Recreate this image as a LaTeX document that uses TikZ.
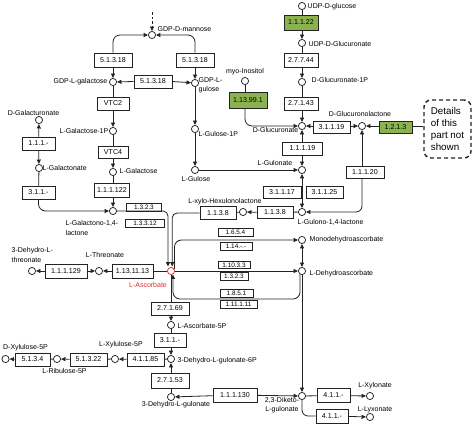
\documentclass[tikz,border=0pt]{standalone}
\usepackage{fontspec}
\setmainfont{Liberation Sans}
\usetikzlibrary{arrows.meta,calc}
\definecolor{kgreen}{RGB}{138,178,78}
\definecolor{kred}{RGB}{225,45,45}
\definecolor{ln}{RGB}{35,35,35}
\begin{document}
\begin{tikzpicture}[x=1pt,y=-1pt,
  met/.style={circle,draw=ln,fill=white,line width=0.75pt,inner sep=0pt,minimum size=7.2pt},
  enz/.style={draw=ln,fill=white,line width=0.65pt,inner sep=0pt,minimum height=13pt,font=\fontsize{7.1}{7.5}\selectfont},
  genz/.style={enz,fill=kgreen},
  sm/.style={draw=ln,fill=white,line width=0.55pt,inner sep=0pt,minimum height=7.5pt,font=\fontsize{6.4}{6.5}\selectfont},
  lbl/.style={inner sep=0.5pt,font=\fontsize{7}{9.5}\selectfont},
  edge/.style={draw=ln,line width=0.8pt},
  arr/.style={edge,-{Triangle[length=4.5pt,width=4pt]}},
  barr/.style={edge,{Triangle[length=4.5pt,width=4pt]}-{Triangle[length=4.5pt,width=4pt]}},
  detbox/.style={draw=ln,dashed,line width=1.4pt,dash pattern=on 4pt off 3pt,rounded corners=7pt,inner sep=0pt,align=left,font=\fontsize{9.8}{12}\selectfont}
]
\useasboundingbox (0,0) rectangle (474,424);

% ---------- metabolites ----------
\node[met] (mann) at (152,35) {};
\node[met] (gdpgal) at (113,82) {};
\node[met] (gdpgul) at (195,83) {};
\node[met] (gal1p) at (113,131) {};
\node[met] (gul1p) at (195,129) {};
\node[met] (galac) at (113,172) {};
\node[met] (gulose) at (195,170) {};
\node[met] (galactono) at (113,211) {};
\node[met] (dgalur) at (39,120) {};
\node[met] (lgalon) at (39,168) {};
\node[met] (udpglc) at (302,6) {};
\node[met] (udpglcA) at (302,43) {};
\node[met] (glcA1p) at (302,82) {};
\node[met] (myo) at (245,81) {};
\node[met] (glcA) at (302,126) {};
\node[met] (glcAlac) at (362,126) {};
\node[met] (gulonate) at (302,170) {};
\node[met] (gulonolac) at (302,212) {};
\node[met] (xylo) at (243,212) {};
\node[met,draw=kred] (asc) at (171,271) {};
\node[met] (threo) at (99,271) {};
\node[met] (dhthreo) at (32,271) {};
\node[met] (mono) at (302,240) {};
\node[met] (dha) at (302,271) {};
\node[met] (asc5p) at (171,325) {};
\node[met] (dhg6p) at (171,359) {};
\node[met] (dhg) at (171,397) {};
\node[met] (diketo) at (302,396) {};
\node[met] (xylonate) at (370,396) {};
\node[met] (lyxonate) at (370,417) {};
\node[met] (lxyl5p) at (115,359) {};
\node[met] (lrib5p) at (57,359) {};
\node[met] (dxyl5p) at (5.5,359) {};

% ---------- enzymes ----------
\node[enz,minimum width=38pt,minimum height=14pt] (eA) at (113,60) {5.1.3.18};
\node[enz,minimum width=38pt,minimum height=14pt] (eB) at (195,60) {5.1.3.18};
\node[enz,minimum width=38pt] (eC) at (153,81.5) {5.1.3.18};
\node[enz,minimum width=32pt] (vtc2) at (113,103.5) {VTC2};
\node[enz,minimum width=30pt,minimum height=12pt] (vtc4) at (113,152.5) {VTC4};
\node[enz,minimum width=35pt,minimum height=14pt] (e111122) at (112,190) {1.1.1.122};
\node[genz,minimum width=34pt,minimum height=15pt] (e11122) at (301,22.5) {1.1.1.22};
\node[enz,minimum width=34pt,minimum height=14pt] (e27744) at (301,60) {2.7.7.44};
\node[enz,minimum width=34pt] (e27143) at (301,103.5) {2.7.1.43};
\node[genz,minimum width=38pt,minimum height=16pt] (e113991) at (248,100) {1.13.99.1};
\node[enz,minimum width=37pt,minimum height=12pt] (e31119) at (331.5,127) {3.1.1.19};
\node[genz,minimum width=33pt,minimum height=12pt] (e1213) at (395.5,127) {1.2.1.3};
\node[enz,minimum width=40pt] (e11119) at (302.5,148.5) {1.1.1.19};
\node[enz,minimum width=38pt,minimum height=11.5pt] (e11120) at (365,172.5) {1.1.1.20};
\node[enz,minimum width=38pt,minimum height=12pt] (e31117) at (282,192.5) {3.1.1.17};
\node[enz,minimum width=37pt,minimum height=12pt] (e31125) at (324.5,192.5) {3.1.1.25};
\node[enz,minimum width=36pt,minimum height=12pt] (e1138r) at (275,212.5) {1.1.3.8};
\node[enz,minimum width=36pt,minimum height=13pt] (e1138l) at (218,213) {1.1.3.8};
\node[enz,minimum width=33pt] (e111a) at (38.5,143.5) {1.1.1.-};
\node[enz,minimum width=33pt] (e311a) at (38.5,192.5) {3.1.1.-};
\node[sm,minimum width=35pt] (s1323a) at (144,207.5) {1.3.2.3};
\node[sm,minimum width=39pt,minimum height=8pt] (s13312) at (145,223) {1.3.3.12};
\node[sm,minimum width=35pt] (s1654) at (235.5,232.5) {1.6.5.4};
\node[sm,minimum width=32pt] (s114) at (236,246.5) {1.14.-.-};
\node[sm,minimum width=32pt] (s11033) at (234,265) {1.10.3.3};
\node[sm,minimum width=28pt] (s1323b) at (234,276.5) {1.3.2.3};
\node[sm,minimum width=33pt] (s1851) at (236.5,293.5) {1.8.5.1};
\node[sm,minimum width=37pt,minimum height=8pt] (s11111) at (238.5,304) {1.11.1.11};
\node[enz,minimum width=42pt,minimum height=14pt] (e111129) at (66,271) {1.1.1.129};
\node[enz,minimum width=41pt,minimum height=14pt] (e131113) at (132.5,271) {1.13.11.13};
\node[enz,minimum width=38pt] (e27169) at (170,308.5) {2.7.1.69};
\node[enz,minimum width=32pt,minimum height=14pt] (e311b) at (170,340) {3.1.1.-};
\node[enz,minimum width=38pt,minimum height=15pt] (e27153) at (170,380.5) {2.7.1.53};
\node[enz,minimum width=37pt] (e41185) at (145.5,359.5) {4.1.1.85};
\node[enz,minimum width=37pt] (e51322) at (88.5,359.5) {5.1.3.22};
\node[enz,minimum width=35pt] (e5134) at (32.5,359.5) {5.1.3.4};
\node[enz,minimum width=44pt,minimum height=14pt] (e111130) at (235,395) {1.1.1.130};
\node[enz,minimum width=33pt,minimum height=14pt] (e411a) at (333.5,395.5) {4.1.1.-};
\node[enz,minimum width=32pt,minimum height=14pt] (e411b) at (332,416) {4.1.1.-};
\node[detbox,minimum width=47pt,minimum height=58pt] (det) at (447.5,129) {Details\\of this\\part not\\shown};

% ---------- labels ----------
\node[lbl,anchor=west] (tmann) at (157,29) {GDP-D-mannose};
\node[lbl,anchor=east] (tgdpgal) at (108,82) {GDP-L-galactose};
\node[lbl,anchor=west,align=left] (tgdpgul) at (198,85.5) {GDP-L-\\gulose};
\node[lbl,anchor=east] (tgal1p) at (109,131) {L-Galactose-1P};
\node[lbl,anchor=west] (tgul1p) at (198,134) {L-Gulose-1P};
\node[lbl,anchor=west] (tgalac) at (119,171) {L-Galactose};
\node[lbl] (tgulose) at (196,178.5) {L-Gulose};
\node[lbl] (tdgalur) at (33.5,113) {D-Galacturonate};
\node[lbl,anchor=west] (tlgalon) at (42,168) {L-Galactonate};
\node[lbl,anchor=west,align=left] (tgalactono) at (65,228) {L-Galactono-1,4-\\lactone};
\node[lbl] (tmyo) at (245,72) {myo-Inositol};
\node[lbl,anchor=west] (tudpglc) at (307,7) {UDP-D-glucose};
\node[lbl,anchor=west] (tudpglcA) at (308,44) {UDP-D-Glucuronate};
\node[lbl,anchor=west] (tglcA1p) at (311,80) {D-Glucuronate-1P};
\node[lbl,anchor=east] (tglcA) at (299,130) {D-Glucuronate};
\node[lbl] (tglcAlac) at (360,114) {D-Glucuronolactone};
\node[lbl] (tgulonate) at (275,163) {L-Gulonate};
\node[lbl,anchor=west] (tgulonolac) at (297,222) {L-Gulono-1,4-lactone};
\node[lbl] (txylo) at (225,202) {L-xylo-Hexulonolactone};
\node[lbl,anchor=west] (tmono) at (309,240) {Monodehydroascorbate};
\node[lbl,anchor=west] (tdha) at (309,274) {L-Dehydroascorbate};
\node[lbl,text=kred] (tasc) at (148,285) {L-Ascorbate};
\node[lbl] (tthreo) at (105,255) {L-Threonate};
\node[lbl,anchor=west,align=left] (tdhthreo) at (11,255) {3-Dehydro-L-\\threonate};
\node[lbl,anchor=west] (tasc5p) at (177,326) {L-Ascorbate-5P};
\node[lbl,anchor=west] (tdhg6p) at (177,361) {3-Dehydro-L-gulonate-6P};
\node[lbl] (tdhg) at (176,404.5) {3-Dehydro-L-gulonate};
\node[lbl,align=center,font=\fontsize{7}{9}\selectfont] (tdiketo) at (282,405.5) {2,3-Diketo-\\L-gulonate};
\node[lbl] (txylonate) at (375,386) {L-Xylonate};
\node[lbl] (tlyxonate) at (375,410) {L-Lyxonate};
\node[lbl] (tdxyl5p) at (25.5,348) {D-Xylulose-5P};
\node[lbl] (tlrib5p) at (64.5,371) {L-Ribulose-5P};
\node[lbl] (tlxyl5p) at (121,345) {L-Xylulose-5P};

% ---------- coordinates ----------
\coordinate (topin) at (152,12);
\coordinate (ascL) at (168,266.5);
\coordinate (ascR) at (172.2,266.5);
\coordinate (retY) at (0,299);

% ---------- connectors ----------
\draw[arr,dashed,dash pattern=on 2.5pt off 2pt] (topin) -- (mann);
\draw[arr,rounded corners=7pt] (eA.north) |- (mann);
\draw[arr] (eA.south) -- (gdpgal);
\draw[arr,rounded corners=7pt] (eB.north) |- (mann);
\draw[arr] (eB.south) -- (gdpgul);
\draw[arr] (eC.west) -- (gdpgal);
\draw[arr] (eC.east) -- (gdpgul);
\draw[edge] (gdpgal) -- (vtc2);
\draw[arr] (vtc2) -- (gal1p);
\draw[edge] (gal1p) -- (vtc4);
\draw[arr] (vtc4) -- (galac);
\draw[edge] (galac) -- (galac |- e111122.north);
\draw[arr] (galac |- e111122.south) -- (galactono);
\draw[arr] (gdpgul) -- (gul1p);
\draw[arr] (gul1p) -- (gulose);
\draw[arr] (gulose) -- (gulonate);
\draw[arr] (e111a) -- (dgalur);
\draw[arr] (e111a) -- (lgalon);
\draw[edge] (lgalon) -- (e311a);
\draw[arr,rounded corners=7pt] (e311a.south) |- (galactono);
\draw[arr,rounded corners=5pt] (galactono.east) -| (ascL);
\draw[edge] (xylo) -- (e1138l);
\draw[arr,rounded corners=5pt] (e1138l.west) -| (ascR);
\draw[edge] (gulonolac) -- (e1138r);
\draw[arr] (e1138r) -- (xylo);
\draw[barr] (gulonate) -- (gulonolac);
\draw[arr] (glcA |- e11119.north) -- (glcA);
\draw[arr] (glcA |- e11119.south) -- (gulonate);
\draw[edge] (udpglc) -- (udpglc |- e11122.north);
\draw[arr] (udpglc |- e11122.south) -- (udpglcA);
\draw[edge] (udpglcA) -- (udpglcA |- e27744.north);
\draw[arr] (udpglcA |- e27744.south) -- (glcA1p);
\draw[edge] (glcA1p) -- (glcA1p |- e27143.north);
\draw[arr] (glcA1p |- e27143.south) -- (glcA);
\draw[edge] (myo) -- (myo |- e113991.north);
\draw[arr,rounded corners=7pt] (myo |- e113991.south) |- (glcA);
\draw[arr] (e31119.west |- glcA) -- (glcA);
\draw[arr] (e31119.east |- glcAlac) -- (glcAlac);
\draw[arr] (e1213.west |- glcAlac) -- (glcAlac);
\draw[edge] (e1213.east |- glcAlac) -- (det.west |- glcAlac);
\draw[arr] (glcAlac |- e11120.north) -- (glcAlac);
\draw[arr,rounded corners=6pt] (glcAlac |- e11120.south) |- (gulonolac);
\draw[edge] (asc) -- (e131113);
\draw[arr] (e131113) -- (threo);
\draw[arr] (e111129) -- (threo);
\draw[arr] (e111129) -- (dhthreo);
\draw[arr] (asc) -- (dha);
\draw[arr,rounded corners=7pt] (asc.30) |- (mono);
\draw[arr,rounded corners=7pt] (dha.240) |- (retY -| asc.300) -- (asc.300);
\draw[barr] (mono) -- (dha);
\draw[arr] (dha) -- (diketo);
\draw[edge] (asc) -- (asc |- e27169.north);
\draw[arr] (asc |- e27169.south) -- (asc5p);
\draw[edge] (asc5p) -- (asc5p |- e311b.north);
\draw[arr] (asc5p |- e311b.south) -- (dhg6p);
\draw[arr] (dhg6p |- e27153.north) -- (dhg6p);
\draw[edge] (dhg6p |- e27153.south) -- (dhg);
\draw[arr] (e111130) -- (dhg);
\draw[arr] (e111130) -- (diketo);
\draw[edge] (dhg6p) -- (e41185);
\draw[arr] (e41185) -- (lxyl5p);
\draw[edge] (lxyl5p) -- (e51322);
\draw[arr] (e51322) -- (lrib5p);
\draw[edge] (lrib5p) -- (e5134);
\draw[arr] (e5134) -- (dxyl5p);
\draw[edge] (diketo) -- (e411a);
\draw[arr] (e411a) -- (xylonate);
\draw[edge,rounded corners=6pt] (diketo.south) |- (e411b.west);
\draw[arr] (e411b) -- (lyxonate);
\end{tikzpicture}
\end{document}
